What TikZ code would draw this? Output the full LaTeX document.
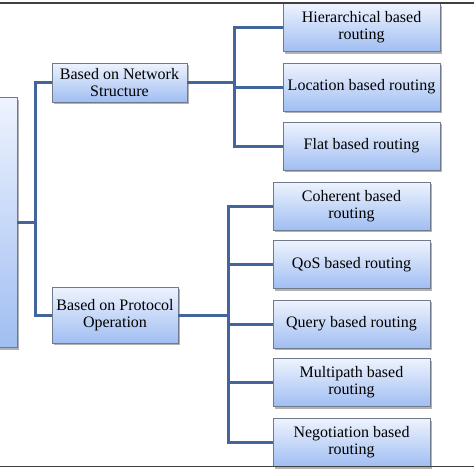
\documentclass[tikz,border=0pt]{standalone}
\usepackage{fontspec}
\setmainfont{Liberation Serif}
\usepackage{tikz}
\usetikzlibrary{shadows}
\definecolor{boxtop}{RGB}{238,243,254}
\definecolor{boxbot}{RGB}{160,190,242}
\definecolor{boxline}{RGB}{112,122,138}
\definecolor{wire}{RGB}{66,102,155}
\tikzstyle{block} = [draw=boxline, line width=0.8pt, top color=boxtop, bottom color=boxbot, align=center, inner sep=1pt,
  font=\fontsize{16}{17}\selectfont, drop shadow={shadow xshift=2pt, shadow yshift=-2pt, fill=black, opacity=0.3}]
\tikzstyle{leaf} = [block, minimum width=157pt, minimum height=48pt]
\tikzstyle{link} = [draw=wire, line width=3pt]

\begin{document}
\begin{tikzpicture}[x=1pt,y=-1pt]
	\useasboundingbox (0,0) rectangle (474,474);
	\clip (0,0) rectangle (474,474);
	\fill[white] (0,0) rectangle (474,474);
	% main branches
	\node[block, minimum width=40pt, minimum height=250pt] (root) at (-3,222.5) {};
	\node[block, minimum width=135pt, minimum height=39pt] (net) at (119.5,82.5) {Based on Network\\Structure};
	\node[block, minimum width=126pt, minimum height=56pt] (proto) at (115,315) {Based on Protocol\\Operation};
	% network structure
	\node[leaf] (hier) at (361.5,27.5) {Hierarchical based\\routing};
	\node[leaf] (loc) at (361.5,87) {Location based routing};
	\node[leaf] (flat) at (361.5,146) {Flat based routing};
	% protocol operation
	\node[leaf] (coh) at (351.5,206) {Coherent based\\routing};
	\node[leaf] (qos) at (351.5,264.5) {QoS based routing};
	\node[leaf] (query) at (351.5,324) {Query based routing};
	\node[leaf] (multi) at (351.5,382.5) {Multipath based\\routing};
	\node[leaf] (nego) at (351.5,442.5) {Negotiation based\\routing};
	% connectors
	\coordinate (j0) at (35,222.5);
	\coordinate (j1) at (234,82.5);
	\coordinate (j2) at (228,315);
	\draw[link] (root.east) -- (j0) |- (net.west);
	\draw[link] (j0) |- (proto.west);
	\draw[link] (net.east) -- (j1);
	\foreach \n in {hier,loc,flat}
		\draw[link] (j1) |- (\n.west);
	\draw[link] (proto.east) -- (j2);
	\foreach \n in {coh,qos,query,multi,nego}
		\draw[link] (j2) |- (\n.west);
	% page rules
	\draw[line width=1.3pt, color=black!75] (0,3) -- (474,3);
	\draw[line width=1.3pt, color=black!75] (0,466.5) -- (474,466.5);
\end{tikzpicture}
\end{document}
